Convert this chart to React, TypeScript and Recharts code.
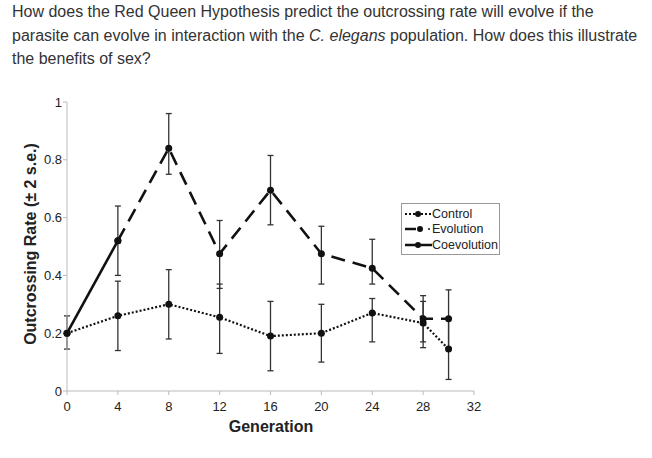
import React from 'react';
import { LineChart, Line, XAxis, YAxis, ErrorBar } from 'recharts';

const generations = [0, 4, 8, 12, 16, 20, 24, 28, 30];

const control = [0.2, 0.26, 0.3, 0.255, 0.19, 0.2, 0.27, 0.235, 0.145];
const controlLow = [0.145, 0.14, 0.18, 0.13, 0.07, 0.1, 0.17, 0.15, 0.04];
const controlHigh = [0.26, 0.38, 0.42, 0.37, 0.31, 0.3, 0.32, 0.31, 0.25];

const evolution = [null, 0.52, 0.84, 0.475, 0.695, 0.475, 0.425, 0.25, 0.25];
const evolutionLow = [null, 0.4, 0.75, 0.355, 0.575, 0.37, 0.37, 0.17, 0.15];
const evolutionHigh = [null, 0.64, 0.96, 0.59, 0.815, 0.57, 0.525, 0.33, 0.35];

const coevolution = [0.2, 0.52, null, null, null, null, null, null, null];

const xTicks = [0, 4, 8, 12, 16, 20, 24, 28, 32];
const yTicks = [0, 0.2, 0.4, 0.6, 0.8, 1];

const data = generations.map((g, i) => ({
  gen: g,
  control: control[i],
  controlErr: [control[i] - controlLow[i], controlHigh[i] - control[i]],
  evolution: evolution[i],
  evolutionErr:
    evolution[i] == null ? null : [evolution[i]! - evolutionLow[i]!, evolutionHigh[i]! - evolution[i]!],
  coevolution: coevolution[i],
}));

const ink = '#111';
const font = 'Liberation Sans, Arial, sans-serif';

const XTick = ({ x, y, payload }: any) => (
  <text x={x} y={y + 16} textAnchor="middle" fill="#222" fontSize={13} fontFamily={font}>
    {payload.value}
  </text>
);

const YTick = ({ x, y, payload }: any) => (
  <text x={x - 1} y={y + 4.5} textAnchor="end" fill="#222" fontSize={13} fontFamily={font}>
    {payload.value}
  </text>
);

function LegendBox() {
  const row = { display: 'flex', alignItems: 'center', height: 15.5 } as const;
  return (
    <div
      style={{
        position: 'absolute',
        left: 401,
        top: 203,
        width: 99,
        height: 52,
        border: '1px solid #999',
        background: '#fff',
        fontFamily: font,
        fontSize: 12.5,
        color: '#222',
        padding: '2px 0 0 2px',
        boxSizing: 'border-box',
      }}
    >
      <div style={row}>
        <svg width={28} height={10}>
          <line x1={1} y1={5} x2={27} y2={5} stroke={ink} strokeWidth={2} strokeDasharray="2 2" />
          <circle cx={14} cy={5} r={3} fill={ink} />
        </svg>
        <span>Control</span>
      </div>
      <div style={row}>
        <svg width={28} height={10}>
          <line x1={1} y1={5} x2={12} y2={5} stroke={ink} strokeWidth={2.5} />
          <circle cx={16} cy={5} r={3} fill={ink} />
          <circle cx={25} cy={5} r={1} fill={ink} />
        </svg>
        <span>Evolution</span>
      </div>
      <div style={row}>
        <svg width={28} height={10}>
          <line x1={1} y1={5} x2={28} y2={5} stroke={ink} strokeWidth={2.5} />
          <circle cx={14} cy={5} r={3} fill={ink} />
        </svg>
        <span>Coevolution</span>
      </div>
    </div>
  );
}

export default function App() {
  return (
    <div
      style={{
        position: 'absolute',
        left: 0,
        top: 0,
        width: 652,
        height: 458,
        background: '#fff',
        overflow: 'hidden',
      }}
    >
      <div
        style={{
          position: 'absolute',
          left: 12,
          top: 0,
          fontFamily: font,
          fontSize: 16,
          lineHeight: '23.5px',
          color: '#333',
          whiteSpace: 'nowrap',
        }}
      >
        How does the Red Queen Hypothesis predict the outcrossing rate will evolve if the
        <br />
        parasite can evolve in interaction with the <i>C. elegans</i> population. How does this illustrate
        <br />
        the benefits of sex?
      </div>

      <div style={{ position: 'absolute', left: 0, top: 0 }}>
        <LineChart
          width={652}
          height={458}
          data={data}
          margin={{ top: 102, right: 178, bottom: 37, left: 7 }}
        >
          <XAxis
            type="number"
            dataKey="gen"
            domain={[0, 32]}
            ticks={xTicks}
            height={30}
            tickSize={4}
            tickMargin={0}
            stroke="#bbb"
            tick={<XTick />}
            interval={0}
          />
          <YAxis
            type="number"
            domain={[0, 1]}
            ticks={yTicks}
            width={60}
            tickSize={4}
            tickMargin={0}
            stroke="#bbb"
            tick={<YTick />}
            interval={0}
          />
          <Line
            dataKey="control"
            stroke={ink}
            strokeWidth={2.2}
            strokeDasharray="2 2"
            dot={{ r: 3.5, fill: ink, stroke: ink, strokeWidth: 0 }}
            isAnimationActive={false}
          >
            <ErrorBar dataKey="controlErr" direction="y" width={3} stroke="#333" strokeWidth={1.3} isAnimationActive={false} />
          </Line>
          <Line
            dataKey="evolution"
            stroke={ink}
            strokeWidth={2.6}
            strokeDasharray="14 8"
            dot={{ r: 3.5, fill: ink, stroke: ink, strokeWidth: 0 }}
            isAnimationActive={false}
          >
            <ErrorBar dataKey="evolutionErr" direction="y" width={3} stroke="#333" strokeWidth={1.3} isAnimationActive={false} />
          </Line>
          <Line
            dataKey="coevolution"
            stroke={ink}
            strokeWidth={2.6}
            dot={{ r: 3.5, fill: ink, stroke: ink, strokeWidth: 0 }}
            isAnimationActive={false}
          />
        </LineChart>
      </div>

      <div
        style={{
          position: 'absolute',
          left: 31,
          top: 244,
          transform: 'translate(-50%, -50%) rotate(-90deg)',
          whiteSpace: 'nowrap',
          fontFamily: font,
          fontWeight: 'bold',
          fontSize: 16,
          color: '#222',
        }}
      >
        Outcrossing Rate (± 2 s.e.)
      </div>
      <div
        style={{
          position: 'absolute',
          left: 271,
          top: 427,
          transform: 'translate(-50%, -50%)',
          whiteSpace: 'nowrap',
          fontFamily: font,
          fontWeight: 'bold',
          fontSize: 16,
          color: '#222',
        }}
      >
        Generation
      </div>
      <LegendBox />
    </div>
  );
}
